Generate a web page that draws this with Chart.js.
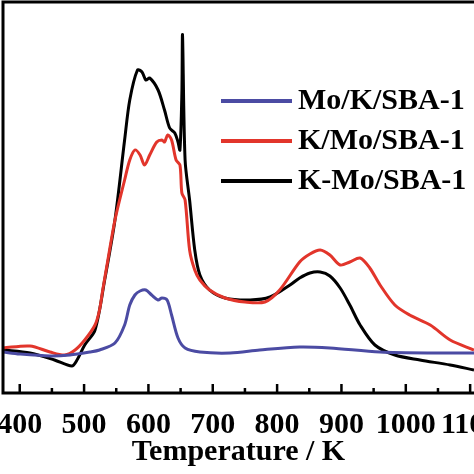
<!DOCTYPE html>
<html>
<head>
<meta charset="UTF-8">
<style>html,body{margin:0;padding:0;background:#fff}#wrap{width:474px;height:474px}</style>
<script src="https://cdn.jsdelivr.net/npm/chart.js"></script>
</head>
<body>
<div id="wrap"><canvas id="c"></canvas></div>
<script>
const labels = ['Mo/K/SBA-1', 'K/Mo/SBA-1', 'K-Mo/SBA-1'];
const colors = ['#4b4ba3', '#e2352b', '#000000'];
const xTicks = [400, 500, 600, 700, 800, 900, 1000, 1100];
const serif = '"Liberation Serif", "DejaVu Serif", "Times New Roman", serif';

const blueT = [374,400,447,478,509,524,548,563,571,579,587,596,605,615,621,629,636,646,657,680,727,773,835,882,960,1053,1106];
const blueY = [41,39,37,38,41,43,50,68,88,98,102,103,98,93,95,93,78,55,45,41,40,43,46,45,41,40,40];

const redT = [374,416,447,470,486,501,517,524,529,537,548,563,571,579,587,594,602,613,621,625,630,636,643,649,652,657,664,672,680,695,719,750,781,804,835,851,867,882,898,913,929,944,960,983,1006,1038,1069,1106];
const redY = [45,47,41,38,43,53,68,83,103,133,173,213,233,243,238,228,238,251,253,251,258,253,233,228,200,193,143,123,113,103,95,91,91,103,131,139,143,138,128,131,135,125,108,88,78,68,53,43];

const blackT = [374,416,454,481,489,501,517,532,548,563,571,583,590,596,602,615,625,633,641,646,649,652,653,657,664,672,680,695,719,758,789,820,835,851,867,882,898,913,929,952,983,1022,1069,1106];
const blackY = [43,40,33,27,33,48,63,113,173,253,293,323,321,313,315,303,283,265,260,251,243,300,358,233,193,143,118,103,95,93,96,108,115,120,121,117,105,88,68,48,38,33,28,23];

const pts = (xs, ys) => xs.map((x, i) => ({x, y: ys[i]}));
const series = [pts(blueT, blueY), pts(redT, redY), pts(blackT, blackY)];

const frame = {
  id: 'frame',
  afterDraw(chart) {
    const {ctx, chartArea: a, scales: {x}} = chart;
    ctx.save();
    ctx.strokeStyle = '#000';
    ctx.lineWidth = 3;
    ctx.beginPath();
    ctx.moveTo(a.right + 5, a.top); ctx.lineTo(a.left, a.top);
    ctx.lineTo(a.left, a.bottom); ctx.lineTo(a.right + 5, a.bottom);
    ctx.stroke();
    ctx.lineWidth = 2.5;
    for (let v = 400; v <= 1100; v += 50) {
      const px = x.getPixelForValue(v);
      const len = v % 100 === 0 ? 9 : 5;
      ctx.beginPath(); ctx.moveTo(px, a.bottom); ctx.lineTo(px, a.bottom - len); ctx.stroke();
    }
    // legend
    ctx.font = 'bold 30px ' + serif;
    ctx.textBaseline = 'middle';
    labels.forEach((l, i) => {
      const y = 101 + i * 40;
      ctx.strokeStyle = colors[i];
      ctx.lineWidth = 4;
      ctx.beginPath(); ctx.moveTo(221, y); ctx.lineTo(292, y); ctx.stroke();
      ctx.fillStyle = '#000';
      ctx.fillText(l, 298, y);
    });
    ctx.restore();
  }
};

new Chart(document.getElementById('c'), {
  type: 'line',
  data: {
    datasets: series.map((d, i) => ({
      label: labels[i], data: d, borderColor: colors[i], borderWidth: 3,
      pointRadius: 0, tension: 0.3, fill: false
    }))
  },
  options: {
    responsive: true, maintainAspectRatio: false, animation: false,
    layout: {padding: {top: 2, left: 3, right: 0, bottom: 0}},
    plugins: {legend: {display: false}, tooltip: {enabled: false}},
    scales: {
      x: {
        type: 'linear', min: 374, max: 1106,
        afterBuildTicks: s => { s.ticks = xTicks.map(v => ({value: v})); },
        afterFit: s => { s.paddingLeft = 0; s.paddingRight = 0; s.height = 81; },
        grid: {display: false},
        border: {display: false},
        ticks: {autoSkip: false, maxRotation: 0, color: '#000', padding: 6,
          callback: v => String(v),
          font: {family: serif, weight: 'bold', size: 30}},
        title: {display: true, text: 'Temperature / K', color: '#000', padding: {top: 0},
          font: {family: serif, weight: 'bold', size: 30}}
      },
      y: {display: false, min: 0, max: 391}
    }
  },
  plugins: [frame]
});
</script>
</body>
</html>
